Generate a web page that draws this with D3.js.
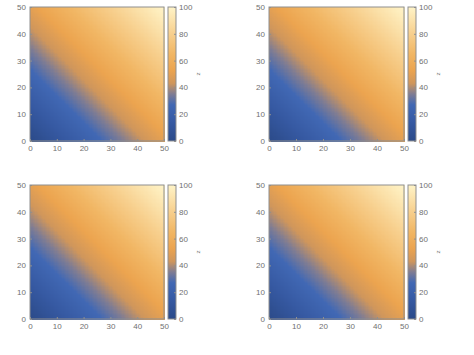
<!DOCTYPE html>
<html><head><meta charset="utf-8">
<script src="https://cdn.jsdelivr.net/npm/d3@7"></script>
<style>html,body{margin:0;padding:0;background:#fff;}svg{display:block;}</style>
</head><body>
<svg id="c" width="474" height="355"></svg>
<script>
// Grid coordinates (x and y) and z values (z = value at grid node)
const gridX = [0, 10, 20, 30, 40, 50];
const gridY = [0, 10, 20, 30, 40, 50];
// zValues[row j (y)][col i (x)]
const zValues = [
  [0, 10, 20, 30, 40, 50],
  [10, 20, 30, 40, 50, 60],
  [20, 30, 40, 50, 60, 70],
  [30, 40, 50, 60, 70, 80],
  [40, 50, 60, 70, 80, 90],
  [50, 60, 70, 80, 90, 100]
];
const axisTicks = [0, 10, 20, 30, 40, 50];
const colorTicks = [0, 20, 40, 60, 80, 100];
const colorStops = [0, 0.14, 0.27, 0.35, 0.43, 0.53, 0.65, 0.8, 1.0];
const colorValues = ["#2b4a88", "#3659a2", "#4168b4", "#7f7c93", "#cf965c", "#eca44f", "#f1b664", "#f7cf8d", "#fff4c8"];

const panels = [
  {x0: 30, x1: 164, y0: 7, y1: 141},
  {x0: 269, x1: 404, y0: 7, y1: 141},
  {x0: 30, x1: 164, y0: 185, y1: 319},
  {x0: 269, x1: 404, y0: 185, y1: 319}
];

const svg = d3.select("#c");
const color = d3.scaleLinear()
  .domain(colorStops.map(s => s * 100))
  .range(colorValues)
  .interpolate(d3.interpolateRgb)
  .clamp(true);

const gx = d3.scaleLinear().domain(gridX).range(d3.range(gridX.length)).clamp(true);
const gy = d3.scaleLinear().domain(gridY).range(d3.range(gridY.length)).clamp(true);
// bilinear lookup in the read grid
function zAt(x, y) {
  const fi = gx(x), fj = gy(y);
  const i0 = Math.min(Math.floor(fi), gridX.length - 2), j0 = Math.min(Math.floor(fj), gridY.length - 2);
  const tx = fi - i0, ty = fj - j0;
  const a = zValues[j0][i0], b = zValues[j0][i0 + 1], c = zValues[j0 + 1][i0], d = zValues[j0 + 1][i0 + 1];
  return (a * (1 - tx) + b * tx) * (1 - ty) + (c * (1 - tx) + d * tx) * ty;
}

const N = 100;
const cells = [];
const xMin = gridX[0], xMax = gridX[gridX.length - 1];
const yMin = gridY[0], yMax = gridY[gridY.length - 1];
for (let j = 0; j < N; j++) for (let i = 0; i < N; i++) {
  const xa = xMin + (xMax - xMin) * i / N, xb = xMin + (xMax - xMin) * (i + 1) / N;
  const ya = yMin + (yMax - yMin) * j / N, yb = yMin + (yMax - yMin) * (j + 1) / N;
  cells.push({xa, xb, ya, yb, z: zAt((xa + xb) / 2, (ya + yb) / 2)});
}

const gray = "#8f8f8f";
const textCol = "#707070";
const font = "Liberation Sans, Arial, sans-serif";

panels.forEach((p, k) => {
  const g = svg.append("g");
  const x = d3.scaleLinear().domain([xMin, xMax]).range([p.x0, p.x1]);
  const y = d3.scaleLinear().domain([yMin, yMax]).range([p.y1, p.y0]);

  g.append("g").attr("shape-rendering", "crispEdges")
    .selectAll("rect").data(cells).join("rect")
    .attr("x", d => x(d.xa))
    .attr("y", d => y(d.yb))
    .attr("width", d => x(d.xb) - x(d.xa) + 0.5)
    .attr("height", d => y(d.ya) - y(d.yb) + 0.5)
    .attr("fill", d => color(d.z));

  // frame
  g.append("rect").attr("x", p.x0).attr("y", p.y0)
    .attr("width", p.x1 - p.x0).attr("height", p.y1 - p.y0)
    .attr("fill", "none").attr("stroke", gray).attr("stroke-width", 1);

  // axes
  const xa = d3.axisBottom(x).tickValues(axisTicks).tickSize(-2).tickPadding(4);
  const ya = d3.axisLeft(y).tickValues(axisTicks).tickSize(-2).tickPadding(4);
  const gxA = g.append("g").attr("transform", `translate(0,${p.y1})`).call(xa);
  const gyA = g.append("g").attr("transform", `translate(${p.x0},0)`).call(ya);
  [gxA, gyA].forEach(a => {
    a.select(".domain").remove();
    a.selectAll("line").attr("stroke", gray);
    a.selectAll("text").attr("fill", textCol).attr("font-size", 8).attr("font-family", font);
  });

  // colorbar
  const cbx0 = p.x1 + 4, cbx1 = p.x1 + 12;
  const cz = d3.scaleLinear().domain([0, 100]).range([p.y1, p.y0]);
  const gradId = "grad" + k;
  const grad = svg.append("defs").append("linearGradient").attr("id", gradId)
    .attr("x1", 0).attr("y1", 1).attr("x2", 0).attr("y2", 0);
  grad.selectAll("stop").data(colorStops).join("stop")
    .attr("offset", d => d)
    .attr("stop-color", (d, i) => colorValues[i]);
  g.append("rect").attr("x", cbx0).attr("y", p.y0).attr("width", cbx1 - cbx0).attr("height", p.y1 - p.y0)
    .attr("fill", `url(#${gradId})`).attr("stroke", gray).attr("stroke-width", 1);
  const ca = d3.axisRight(cz).tickValues(colorTicks).tickSize(-2).tickPadding(3);
  const gca = g.append("g").attr("transform", `translate(${cbx1},0)`).call(ca);
  gca.select(".domain").remove();
  gca.selectAll("line").attr("stroke", gray);
  gca.selectAll("text").attr("fill", textCol).attr("font-size", 8).attr("font-family", font);

  g.append("text").attr("transform", `translate(${p.x1 + 33},${(p.y0 + p.y1) / 2}) rotate(90)`)
    .attr("text-anchor", "middle").attr("font-size", 6).attr("fill", textCol).attr("font-family", font)
    .text("z");
});
</script>
</body></html>
